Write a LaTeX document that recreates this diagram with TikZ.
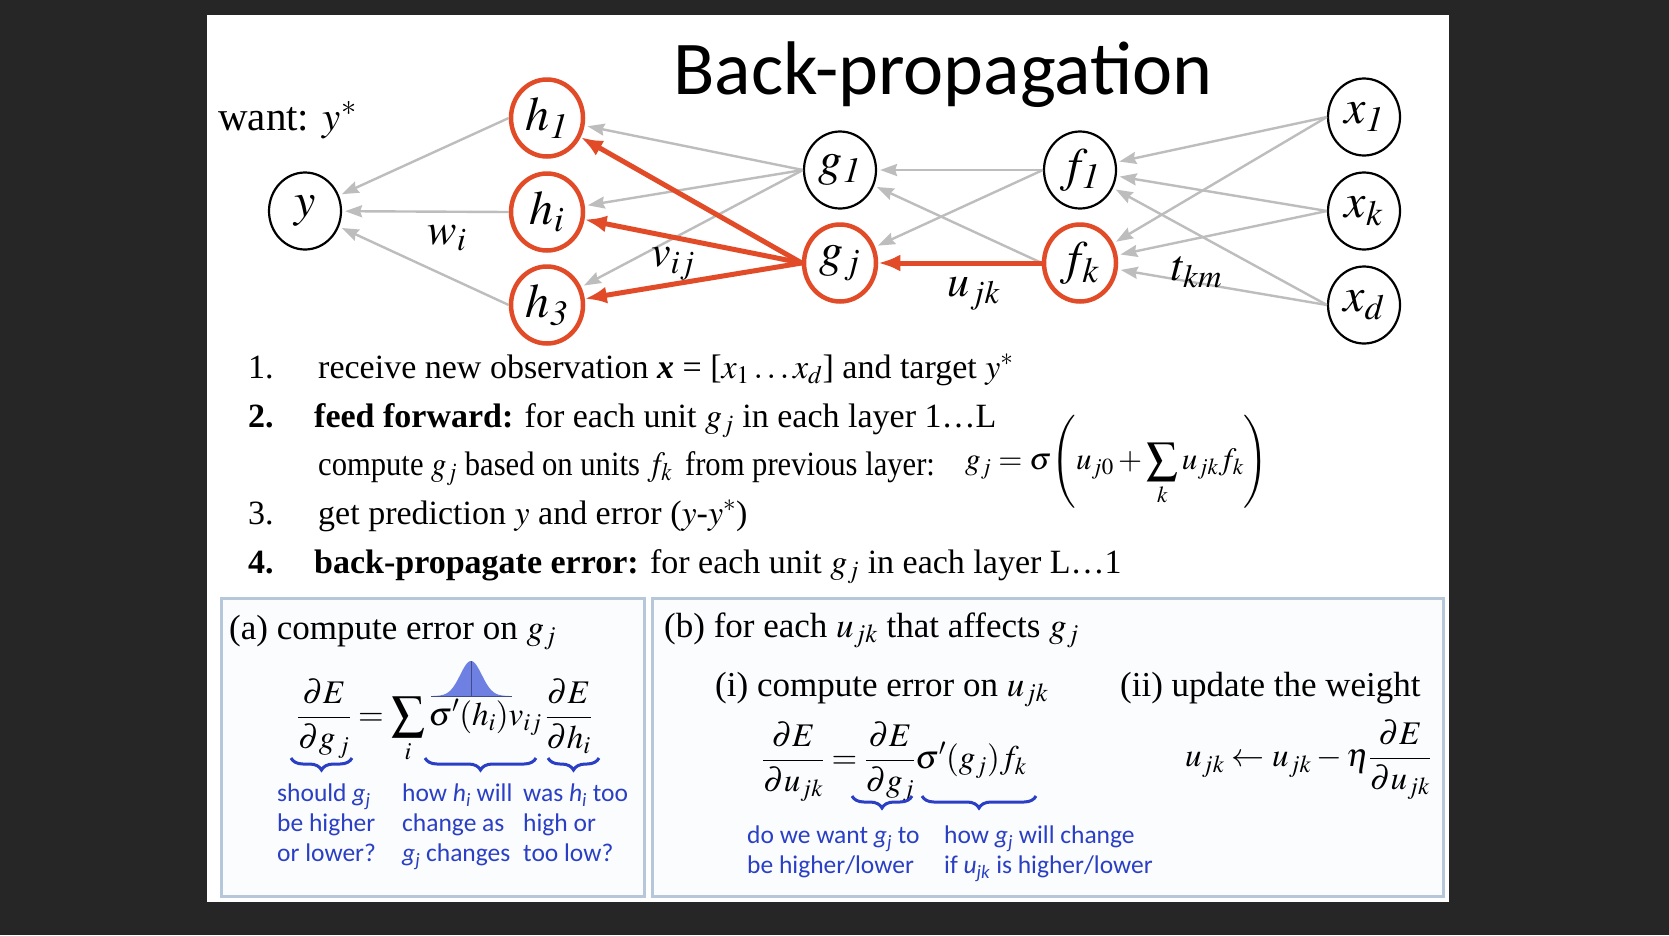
\documentclass[tikz,border=0pt]{standalone}
\usepackage{mathptmx}
\usepackage[no-math]{fontspec}
\setmainfont{Liberation Serif}
\newfontfamily\slidesans{Carlito}
\usetikzlibrary{shapes.geometric,arrows.meta,decorations.pathreplacing}
\definecolor{bpDark}{HTML}{262626}
\definecolor{bpRed}{HTML}{E14B27}
\definecolor{bpGray}{HTML}{BDBDBD}
\definecolor{bpBlue}{HTML}{2A3FC4}
\definecolor{bpBell}{HTML}{6E80E2}
\definecolor{bpFrame}{HTML}{B7C7DA}
\definecolor{bpPanel}{HTML}{FAFCFE}
\tikzset{
  bp-unit/.style={ellipse, draw=black, line width=2.2pt, fill=white,
    minimum width=72pt, minimum height=77pt, inner sep=0pt,
    font=\fontsize{48}{50}\selectfont},
  bp-hot/.style={bp-unit, draw=bpRed, line width=4.5pt},
  bp-flow/.style={-{Stealth[length=17pt,width=12pt,inset=2pt]}, line width=2.4pt,
    draw=bpGray, shorten >=3pt},
  bp-back/.style={-{Latex[length=22pt,width=17pt]}, line width=5pt, draw=bpRed},
  bp-weight/.style={font=\fontsize{44}{46}\selectfont},
  bp-text/.style={anchor=base west, inner sep=0pt, font=\fontsize{34}{40}\selectfont},
  bp-head/.style={anchor=base west, inner sep=0pt, font=\fontsize{35}{40}\selectfont},
  bp-math/.style={anchor=west, inner sep=0pt, font=\fontsize{33}{38}\selectfont},
  bp-note/.style={anchor=north west, inner sep=0pt, text=bpBlue, align=left,
    font=\slidesans\fontsize{25.5}{30}\selectfont},
  bp-brace/.style={draw=bpBlue, line width=3pt,
    decorate, decoration={brace, mirror, amplitude=12pt}},
  bp-panel/.style={draw=bpFrame, line width=2.5pt, fill=bpPanel, anchor=north west}
}
\begin{document}
\begin{tikzpicture}[x=1pt, y=-1pt]
\useasboundingbox (0,0) rectangle (1669,935);
\fill[bpDark] (0,0) rectangle (1669,935);
\fill[white] (207,15) rectangle (1449,902);

\node[anchor=base, font=\slidesans\fontsize{76}{80}\selectfont] (title) at (943,94) {Back-propagation};
\node[anchor=base west, inner sep=0pt, font=\fontsize{41}{44}\selectfont] (want) at (218,130) {want: $y^*$};

\node[bp-unit] (y) at (305,211) {$y$};
\node[bp-hot] (h1) at (547,118) {$h_{\mathit{1}}$};
\node[bp-hot] (hi) at (547,212) {$h_i$};
\node[bp-hot] (h3) at (547,305) {$h_{\mathit{3}}$};
\node[bp-unit] (g1) at (840,170) {$g_{\mathit{1}}$};
\node[bp-hot] (gj) at (840,263) {$g_j$};
\node[bp-unit] (f1) at (1080,170) {$f_{\mathit{1}}$};
\node[bp-hot] (fk) at (1080,263) {$f_k$};
\node[bp-unit] (x1) at (1364,117) {$x_{\mathit{1}}$};
\node[bp-unit] (xk) at (1364,211) {$x_k$};
\node[bp-unit] (xd) at (1364,305) {$x_d$};

\draw[bp-flow] (h1.west) -- (y);
\draw[bp-flow] (hi.west) -- (y);
\draw[bp-flow] (h3.west) -- (y);
\draw[bp-flow] (g1.west) -- (h1);
\draw[bp-flow] (g1.west) -- (hi);
\draw[bp-flow] (g1.west) -- (h3);
\draw[bp-back] (gj.west) -- (h1);
\draw[bp-back] (gj.west) -- (hi);
\draw[bp-back] (gj.west) -- (h3);
\draw[bp-flow] (f1.west) -- (g1);
\draw[bp-flow] (f1.west) -- (gj);
\draw[bp-flow] (fk.west) -- (g1);
\draw[bp-back] (fk.west) -- (gj);
\draw[bp-flow] (x1.west) -- (f1);
\draw[bp-flow] (x1.west) -- (fk);
\draw[bp-flow] (xk.west) -- (f1);
\draw[bp-flow] (xk.west) -- (fk);
\draw[bp-flow] (xd.west) -- (f1);
\draw[bp-flow] (xd.west) -- (fk);

\node[bp-weight] (wi) at (447,238) {$w_i$};
\node[bp-weight] (vij) at (673,264) {$v_{ij}$};
\node[bp-weight] (ujk) at (974,294) {$u_{jk}$};
\node[bp-weight] (tkm) at (1197,272) {$t_{km}$};

\node[bp-text] (n1) at (248,378) {1.};
\node[bp-text] (s1) at (318,378) {receive new observation \textbf{\textit{x}} = [$x_1\ldots x_d$] and target $y^*$};
\node[bp-text] (n2) at (248,427) {\textbf{2.}};
\node[bp-text] (s2) at (314,427) {\textbf{feed forward:} for each unit $g_j$ in each layer 1\ldots L};
\node[bp-text] (s2b) at (318,475) {\scalebox{0.9}[1]{compute $g_j$ based on units $f_k$\, from previous layer:}};
\node[bp-math, font=\fontsize{31}{36}\selectfont] (fwd) at (965,462) {$\displaystyle g_j=\sigma\Biggl(u_{j0}+\sum_k u_{jk}f_k\Biggr)$};
\node[bp-text] (n3) at (248,524) {3.};
\node[bp-text] (s3) at (318,524) {get prediction $y$ and error ($y$-$y^*$)};
\node[bp-text] (n4) at (248,573) {\textbf{4.}};
\node[bp-text] (s4) at (314,573) {\textbf{back-propagate error:} for each unit $g_j$ in each layer L\ldots 1};

\node[bp-panel, minimum width=423pt, minimum height=298pt] (pa) at (220,597) {};
\node[bp-panel, minimum width=791pt, minimum height=298pt] (pb) at (651,597) {};

\node[bp-head] (ha) at (229,639) {(a) compute error on $g_j$};
\node[bp-math] (ea) at (297,721) {$\displaystyle\frac{\partial E}{\partial g_{\,j}}=\sum_i\sigma'(h_i)v_{ij}\,\frac{\partial E}{\partial h_i}$};
\fill[bpBell] plot[domain=-2.6:2.6, samples=60, smooth] ({471+14.5*\x},{696-35*exp(-\x*\x/1.1)}) -- cycle;
\draw[bpBell!60!black, line width=1pt] (431,696) -- (512,696);
\draw[bpBell!60!black, line width=1pt] (471,661) -- (471,696);
\draw[bp-brace] (291,758) -- (352,758);
\draw[bp-brace] (425,758) -- (536,758);
\draw[bp-brace] (548,758) -- (599,758);
\node[bp-note] (na1) at (277,784) {should \textit{g}\textsubscript{\textit{j}}\\be higher\\or lower?};
\node[bp-note] (na2) at (402,784) {how \textit{h}\textsubscript{\textit{i}} will\\change as\\\textit{g}\textsubscript{\textit{j}} changes};
\node[bp-note] (na3) at (523,784) {was \textit{h}\textsubscript{\textit{i}} too\\high or\\too low?};

\node[bp-head] (hb) at (664,637) {(b) for each $u_{jk}$ that affects $g_j$};
\node[bp-head] (hbi) at (715,696) {(i) compute error on $u_{jk}$};
\node[bp-head] (hbii) at (1120,696) {(ii) update the weight};
\node[bp-math] (eb) at (762,762) {$\displaystyle\frac{\partial E}{\partial u_{jk}}=\frac{\partial E}{\partial g_j}\sigma'(g_j)f_k$};
\node[bp-math] (ec) at (1185,760) {$\displaystyle u_{jk}\leftarrow u_{jk}-\eta\frac{\partial E}{\partial u_{jk}}$};
\draw[bp-brace] (852,796) -- (912,796);
\draw[bp-brace] (922,796) -- (1036,796);
\node[bp-note] (nb1) at (747,826) {do we want \textit{g}\textsubscript{\textit{j}} to\\be higher/lower};
\node[bp-note] (nb2) at (944,826) {how \textit{g}\textsubscript{\textit{j}} will change\\if \textit{u}\textsubscript{\textit{jk}} is higher/lower};
\end{tikzpicture}
\end{document}
